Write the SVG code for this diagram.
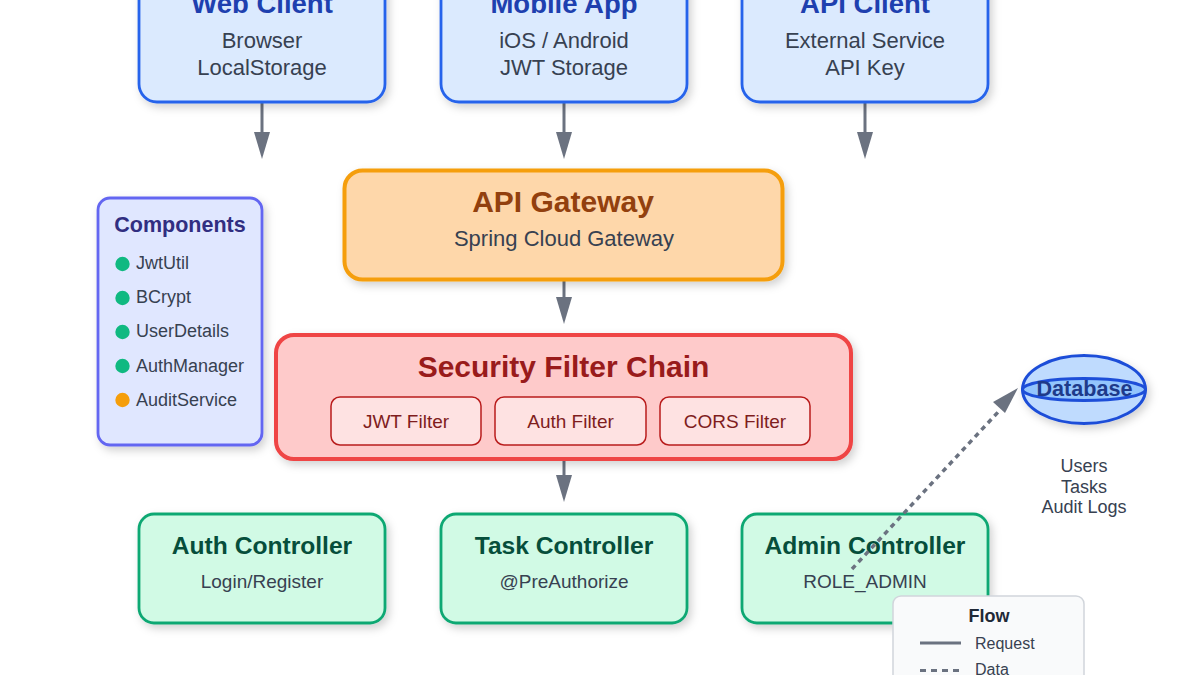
<svg xmlns="http://www.w3.org/2000/svg" width="1200" height="675" viewBox="0 0 1200 675">
<style>
text{font-family:"Liberation Sans",Arial,sans-serif;text-anchor:middle}
.box{stroke-width:2.8;filter:url(#sh)}
.client{fill:#dbeafe;stroke:#2563eb}
.ctl{fill:#d1fae5;stroke:#10a873}
.t{font-weight:700;font-size:24.600px}
.tc{font-weight:700;font-size:27.500px}
.cl{fill:#1e40af}.gr{fill:#064e3b}
.s{font-size:22px;fill:#374151}
.s2{font-size:19px;fill:#374151}
.f{fill:#fee2e2;stroke:#b91c1c;stroke-width:1.5}
.ft{font-size:19px;fill:#7f1d1d}
.li{font-size:18px;fill:#374151;text-anchor:start}
.conn{stroke:#6b7280;stroke-width:3;fill:none}
.head{fill:#6b7280}
</style>
<defs>
<filter id="sh" x="-10%" y="-10%" width="125%" height="130%"><feDropShadow dx="3" dy="4" stdDeviation="4" flood-color="#000" flood-opacity=".18"/></filter>
</defs>
<rect width="1200" height="675" fill="#fff"/>
<g id="connectors">
<path class="conn" d="M262 103V132"/><path class="head" d="M254 132H270L262 159Z"/>
<path class="conn" d="M564 103V132"/><path class="head" d="M556 132H572L564 159Z"/>
<path class="conn" d="M865 103V132"/><path class="head" d="M857 132H873L865 159Z"/>
<path class="conn" d="M564 281V297"/><path class="head" d="M556 297H572L564 324Z"/>
<path class="conn" d="M564 460V475"/><path class="head" d="M556 475H572L564 502Z"/>
</g>
<g id="web-client"><rect class="box client" x="139" y="-40" width="246" height="142" rx="18"/><text class="tc cl" x="262" y="13">Web Client</text><text class="s" x="262" y="48">Browser</text><text class="s" x="262" y="75">LocalStorage</text></g>
<g id="mobile-app"><rect class="box client" x="441" y="-40" width="246" height="142" rx="18"/><text class="tc cl" x="564" y="13">Mobile App</text><text class="s" x="564" y="48">iOS / Android</text><text class="s" x="564" y="75">JWT Storage</text></g>
<g id="api-client"><rect class="box client" x="742" y="-40" width="246" height="142" rx="18"/><text class="tc cl" x="865" y="13">API Client</text><text class="s" x="865" y="48">External Service</text><text class="s" x="865" y="75">API Key</text></g>
<g id="api-gateway"><rect class="box" x="344.500" y="170.500" width="438" height="109" rx="18" fill="#fed7aa" stroke="#f59e0b" style="stroke-width:4"/><text x="563" y="212" font-size="30" font-weight="700" fill="#92400e">API Gateway</text><text class="s" x="564" y="246">Spring Cloud Gateway</text></g>
<g id="components"><rect class="box" x="98" y="198" width="164" height="247" rx="12" fill="#e0e7ff" stroke="#6366f1"/><text x="180" y="232" font-size="21.500" font-weight="700" fill="#312e81">Components</text>
<circle cx="122.500" cy="264" r="7.200" fill="#10b981"/><text class="li" x="136" y="269">JwtUtil</text>
<circle cx="122.500" cy="298" r="7.200" fill="#10b981"/><text class="li" x="136" y="303">BCrypt</text>
<circle cx="122.500" cy="332" r="7.200" fill="#10b981"/><text class="li" x="136" y="337">UserDetails</text>
<circle cx="122.500" cy="366" r="7.200" fill="#10b981"/><text class="li" x="136" y="372">AuthManager</text>
<circle cx="122.500" cy="400" r="7.200" fill="#f59e0b"/><text class="li" x="136" y="406">AuditService</text></g>
<g id="security-filter-chain"><rect class="box" x="276" y="335" width="575" height="124" rx="18" fill="#fecaca" stroke="#ef4444" style="stroke-width:4"/><text x="563.500" y="377" font-size="30" font-weight="700" fill="#991b1b">Security Filter Chain</text>
<rect class="f" x="331" y="397" width="150" height="48" rx="9"/><text class="ft" x="406" y="428">JWT Filter</text>
<rect class="f" x="495" y="397" width="151" height="48" rx="9"/><text class="ft" x="570.500" y="428">Auth Filter</text>
<rect class="f" x="660" y="397" width="150" height="48" rx="9"/><text class="ft" x="735" y="428">CORS Filter</text></g>
<g id="auth-controller"><rect class="box ctl" x="139" y="514" width="246" height="109" rx="15"/><text class="t gr" x="262" y="554">Auth Controller</text><text class="s2" x="262" y="588">Login/Register</text></g>
<g id="task-controller"><rect class="box ctl" x="441" y="514" width="246" height="109" rx="15"/><text class="t gr" x="564" y="554">Task Controller</text><text class="s2" x="564" y="588">@PreAuthorize</text></g>
<g id="admin-controller"><rect class="box ctl" x="742" y="514" width="246" height="109" rx="15"/><text class="t gr" x="865" y="554">Admin Controller</text><text class="s2" x="865" y="588">ROLE_ADMIN</text></g>
<g id="database"><ellipse cx="1084" cy="389.500" rx="61.500" ry="34" fill="#bfdbfe" stroke="#1d4ed8" stroke-width="3" filter="url(#sh)"/><ellipse cx="1084" cy="389.500" rx="61.500" ry="11" fill="#93c5fd" stroke="#1d4ed8" stroke-width="3"/><text x="1084.500" y="396" font-size="21.600" font-weight="700" fill="#1e3a8a">Database</text>
<text x="1084" y="472" font-size="18" fill="#374151">Users</text><text x="1084" y="493" font-size="18" fill="#374151">Tasks</text><text x="1084" y="513" font-size="18" fill="#374151">Audit Logs</text></g>
<g id="data-connector"><path class="conn" d="M852 569L1000 410" stroke-dasharray="5 4.500" style="stroke-width:3.500"/><path class="head" d="M1018 388L1005 413L993 402Z"/></g>
<g id="legend"><rect x="893" y="596" width="191" height="100" rx="8" fill="#f9fafb" stroke="#d1d5db" stroke-width="1.500"/><text x="989" y="622" font-size="18" font-weight="700" fill="#1f2937">Flow</text><path d="M920 643H961" stroke="#6b7280" stroke-width="3"/><text x="975" y="649" font-size="16" fill="#374151" style="text-anchor:start">Request</text><path d="M920 670.500H959" stroke="#6b7280" stroke-width="3" stroke-dasharray="6 5"/><text x="975" y="675" font-size="16" fill="#374151" style="text-anchor:start">Data</text></g>
</svg>
